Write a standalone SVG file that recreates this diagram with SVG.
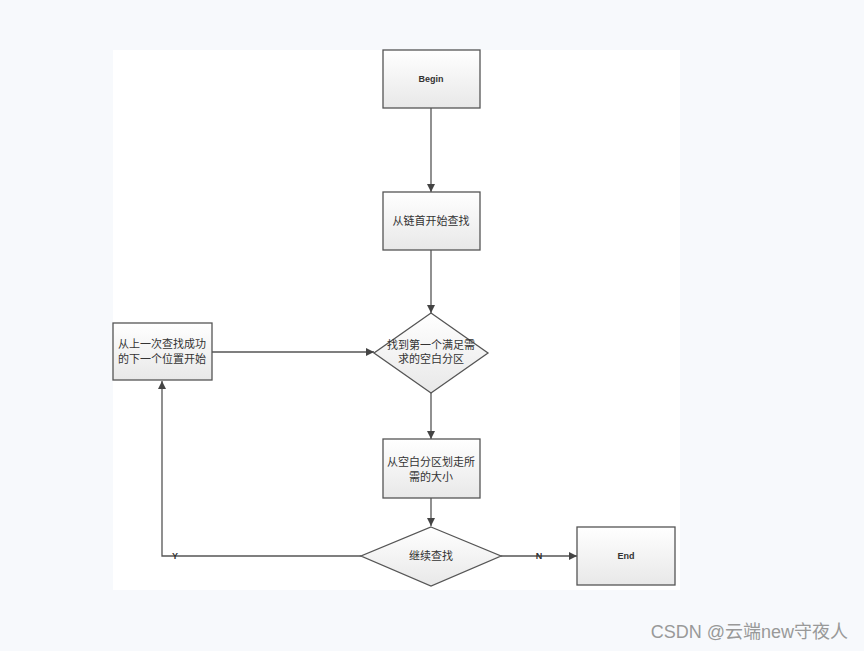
<svg xmlns="http://www.w3.org/2000/svg" width="864" height="651" viewBox="0 0 864 651">
<style>
.box{fill:url(#g);stroke:#555;stroke-width:1.3}
.t{font-family:"Liberation Serif","Noto Sans CJK SC",serif;font-size:11px;fill:#333;text-anchor:middle}
.e{font-family:"Liberation Sans",sans-serif;font-size:9px;font-weight:bold;fill:#333;text-anchor:middle}
.c{fill:none;stroke:#555;stroke-width:1.3;marker-end:url(#a)}
</style>
<defs>
<linearGradient id="g" x1="0" y1="0" x2="0" y2="1"><stop offset="0" stop-color="#fff"/><stop offset="1" stop-color="#e8e8e8"/></linearGradient>
<marker id="a" viewBox="0 0 10 10" refX="10" refY="5" markerWidth="8" markerHeight="8" markerUnits="userSpaceOnUse" orient="auto"><path d="M0,0L10,5L0,10z" fill="#444"/></marker>
</defs>
<rect width="864" height="651" fill="#f7f9fc"/>
<rect x="113" y="50" width="567" height="540" fill="#fff"/>
<g id="connectors">
<path class="c" d="M431,108V192"/>
<path class="c" d="M431,250V313"/>
<path class="c" d="M212,352H374"/>
<path class="c" d="M431,393V439"/>
<path class="c" d="M431,498V526"/>
<path class="c" d="M361,556H162V381"/>
<path class="c" d="M501,556H577"/>
<text class="e" x="175" y="559" font-weight="normal">Y</text>
<text class="e" x="539" y="559" font-weight="normal">N</text>
</g>
<g id="begin"><rect class="box" x="383" y="50" width="97" height="58"/><text class="e" x="431" y="82">Begin</text></g>
<g id="start"><rect class="box" x="383" y="192" width="97" height="58"/><text class="t" x="431" y="225">从链首开始查找</text></g>
<g id="find"><path class="box" d="M431,313L488,353L431,393L374,353z"/><text class="t" x="431" y="349">找到第一个满足需</text><text class="t" x="431" y="363">求的空白分区</text></g>
<g id="alloc"><rect class="box" x="383" y="439" width="97" height="59"/><text class="t" x="431" y="466">从空白分区划走所</text><text class="t" x="431" y="481">需的大小</text></g>
<g id="cont"><path class="box" d="M431,527L501,556L431,586L361,556z"/><text class="t" x="431" y="560">继续查找</text></g>
<g id="end"><rect class="box" x="577" y="527" width="98" height="58"/><text class="e" x="626" y="559">End</text></g>
<g id="next"><rect class="box" x="113" y="323" width="99" height="57"/><text class="t" x="162" y="348">从上一次查找成功</text><text class="t" x="162" y="363">的下一个位置开始</text></g>
<text x="848" y="638" font-family="Liberation Sans,Noto Sans CJK SC,sans-serif" font-size="18" fill="#999" text-anchor="end">CSDN @云端new守夜人</text>
</svg>
